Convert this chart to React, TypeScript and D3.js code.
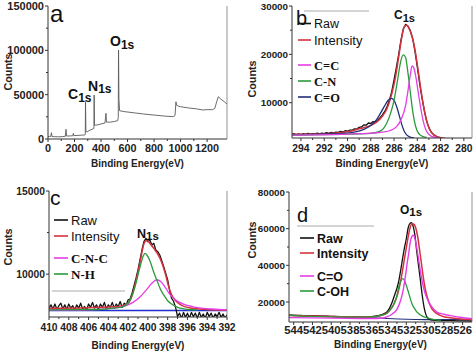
import React from "react";
import * as d3 from "d3";

type Pt = [number, number];

// ---------------- Panel a : survey ----------------
const surveyTicksX = [0, 200, 400, 600, 800, 1000, 1200];
const surveyTicksY = [0, 50000, 100000, 150000];
const surveySpectrum: Pt[] = [
  [0, 2600], [10, 2900], [20, 2700], [26, 7100], [30, 2800], [50, 2600], [80, 2500], [110, 2700],
  [130, 3000], [136, 10900], [140, 3300], [170, 3500], [188, 3700], [191, 6400], [195, 3800],
  [220, 4000], [250, 4300], [275, 4500], [281, 5000], [283, 42100], [286, 8500], [295, 8000],
  [310, 9500], [325, 10500], [340, 11500], [346, 12000], [348, 49600], [351, 15500], [370, 15800],
  [400, 17000], [430, 18000], [437, 29000], [441, 19000], [470, 19000], [500, 19800], [525, 20600],
  [530, 24000], [532, 100400], [535, 45000], [540, 31900], [580, 30800], [650, 29500], [720, 28200],
  [800, 27000], [880, 25800], [945, 25200], [958, 26500], [965, 42000], [970, 38000], [985, 37000],
  [1000, 36400], [1060, 35000], [1120, 34000], [1170, 32700], [1200, 33200], [1240, 33000],
  [1258, 34500], [1272, 42000], [1285, 47700], [1300, 45500], [1330, 42000], [1350, 39500],
];

// ---------------- Panel b : C1s ----------------
const c1sTicksX = [294, 292, 290, 288, 286, 284, 282, 280];
const c1sTicksY = [10000, 20000, 30000];
const c1sRawStart = 294.8;
const c1sRawStep = -0.2;
const c1sRawCounts = [
  3500, 3620, 3380, 3550, 3420, 3600, 3450, 3650, 3480, 3600, 3520, 3700, 3550, 3720, 3600, 3800,
  3680, 3850, 3750, 3900, 3850, 4050, 3950, 4200, 4100, 4350, 4300, 4600, 4550, 4900, 5000, 5400,
  5350, 5800, 5700, 6100, 6000, 6400, 6900, 7500, 8200, 9200, 10500, 12300, 14700, 17300, 20000,
  23000, 25300, 26200, 25800, 24900, 23300, 20600, 17400, 14000, 11000, 8400, 6200, 4800, 3900,
  3400, 3100, 2900, 2800,
];
const c1sEnvelope: Pt[] = [
  [294.8, 3450], [293, 3500], [291, 3750], [290, 4000], [289, 4600], [288, 5300], [287.5, 6000],
  [287, 7200], [286.6, 8800], [286.2, 11800], [285.9, 15000], [285.6, 19500], [285.3, 24000],
  [285.1, 25800], [284.9, 26000], [284.7, 25300], [284.5, 24000], [284.3, 22200], [284.1, 19500],
  [283.9, 16200], [283.7, 12800], [283.5, 9800], [283.3, 7300], [283.1, 5500], [282.9, 4300],
  [282.6, 3400], [282.3, 2950], [282.0, 2750], [281.6, 2650],
];
const c1sCC: Pt[] = [
  [294.8, 3300], [290, 3500], [288, 3700], [287, 3900], [286.4, 4200], [285.8, 5000], [285.4, 6500],
  [285.0, 9500], [284.8, 12500], [284.6, 15800], [284.45, 17600], [284.3, 17200], [284.1, 15000],
  [283.9, 11800], [283.7, 8800], [283.5, 6300], [283.3, 4600], [283.1, 3700], [282.8, 3100],
  [282.5, 2850], [282.2, 2750],
];
const c1sCN: Pt[] = [
  [294.8, 3300], [290, 3500], [288, 3650], [287.3, 4000], [286.9, 4700], [286.6, 5900], [286.3, 7800],
  [286.0, 10500], [285.7, 14600], [285.45, 18300], [285.2, 19900], [285.0, 19300], [284.85, 17000],
  [284.65, 13200], [284.45, 9200], [284.25, 6200], [284.05, 4400], [283.8, 3400], [283.5, 3000],
  [283.2, 2850],
];
const c1sCO: Pt[] = [
  [294.8, 3350], [293, 3450], [291, 3600], [290, 3700], [289.2, 4000], [288.6, 4500], [288.0, 5300],
  [287.5, 6500], [287.1, 8100], [286.8, 9400], [286.5, 10500], [286.25, 10900], [286.0, 10500],
  [285.75, 9000], [285.5, 6900], [285.3, 5200], [285.1, 4000], [284.9, 3300], [284.6, 2900],
  [284.3, 2750],
];
const c1sLegend = ["Raw", "Intensity", "C=C", "C-N", "C=O"];

// ---------------- Panel c : N1s ----------------
const n1sTicksX = [410, 408, 406, 404, 402, 400, 398, 396, 394, 392];
const n1sTicksY = [10000, 15000];
const n1sRawStart = 410;
const n1sRawStep = -0.2;
const n1sRawCounts = [
  7950, 8150, 7900, 8200, 7880, 8100, 8250, 7900, 8150, 7880, 8200, 7950, 8100, 7850, 8150, 7950,
  8250, 7900, 8050, 7850, 8200, 8000, 8300, 7950, 8150, 7880, 8200, 8000, 8300, 7900, 8150, 8000,
  8300, 7950, 8200, 8050, 8350, 8000, 8250, 8150, 8450, 8500, 8850, 9300, 9750, 10250, 10850,
  11450, 11950, 12150, 11950, 12050, 11750, 11850, 11450, 11350, 11150, 10800, 10450, 10050, 9650,
  9000, 8550, 8350, 8000, 7450, 7650, 7350, 7700, 7400, 7650, 7350, 7700, 7450, 7650, 7350, 7700,
  7400, 7600, 7350, 7700, 7450, 7650, 7350, 7600, 7450, 7700, 7400, 7600, 7350, 7550,
];
const n1sEnvelope: Pt[] = [
  [410, 7950], [406, 7980], [403, 8050], [402, 8250], [401.6, 8700], [401.2, 9600], [400.8, 10700],
  [400.5, 11600], [400.3, 11950], [400.1, 12000], [399.8, 11850], [399.4, 11550], [399.0, 11200],
  [398.6, 10700], [398.2, 9950], [397.9, 9250], [397.6, 8750], [397.2, 8400], [396.8, 8200],
  [396.2, 8030], [395.5, 7950], [394.5, 7880], [393, 7840], [392, 7820],
];
const n1sCNC: Pt[] = [
  [410, 7830], [407, 7840], [405, 7880], [403.5, 7950], [402.5, 8050], [401.5, 8300], [400.8, 8620],
  [400.2, 9020], [399.6, 9450], [399.1, 9660], [398.7, 9550], [398.3, 9250], [397.8, 8800],
  [397.4, 8550], [396.9, 8330], [396.4, 8200], [395.5, 8050], [394.8, 7970], [393.5, 7900], [392, 7850],
];
const n1sNH: Pt[] = [
  [410, 7850], [404.9, 7870], [403.5, 7950], [402.5, 8050], [401.8, 8450], [401.3, 9250],
  [400.8, 10420], [400.5, 11050], [400.3, 11250], [400.1, 11150], [399.8, 10800], [399.4, 10100],
  [399.1, 9650], [398.7, 9050], [398.4, 8750], [398.0, 8400], [397.6, 8200], [397.1, 8030],
  [396.5, 7920], [396, 7870], [395, 7850],
];
const n1sBaseline: Pt[] = [[410, 7810], [392, 7810]];
const n1sLegend = ["Raw", "Intensity", "C-N-C", "N-H"];

// ---------------- Panel d : O1s ----------------
const o1sTicksX = [544, 542, 540, 538, 536, 534, 532, 530, 528, 526];
const o1sTicksY = [20000, 40000, 60000, 80000];
const o1sRaw: Pt[] = [
  [544.5, 12800], [543.5, 12700], [543, 12600], [542, 12450], [541, 12300], [540, 12150], [539, 12000],
  [538, 11950], [537, 11900], [536, 11900], [535.3, 12300], [534.8, 12800], [534.4, 13600],
  [534.1, 14400], [533.8, 16500], [533.5, 20000], [533.2, 24500], [533.0, 27500], [532.8, 31500],
  [532.6, 37300], [532.4, 43500], [532.2, 49500], [532.0, 54500], [531.8, 60500], [531.6, 63000],
  [531.45, 63300], [531.3, 61800], [531.1, 57000], [530.9, 48200], [530.7, 40000], [530.5, 31900],
  [530.3, 23500], [530.1, 17000], [529.9, 13000], [529.6, 10800], [529.2, 10100], [528.5, 9900],
  [527, 9800], [526, 9700], [525, 9650],
];
const o1sEnvelope: Pt[] = [
  [544.5, 12700], [541, 12300], [538, 11900], [536, 11800], [535, 12200], [534.4, 13100], [534, 14200],
  [533.6, 16500], [533.3, 19200], [533.0, 23000], [532.8, 26800], [532.6, 31500], [532.4, 37300],
  [532.2, 43500], [532.0, 49500], [531.8, 55500], [531.6, 60500], [531.4, 62700], [531.2, 62400],
  [531.0, 60500], [530.8, 56000], [530.6, 49000], [530.4, 41500], [530.2, 33800], [530.0, 27500],
  [529.7, 21500], [529.4, 17500], [529.0, 14700], [528.5, 13000], [528, 12000], [527.3, 11400],
  [526.5, 10900], [525.7, 10600], [525, 10400],
];
const o1sCO: Pt[] = [
  [544.5, 11500], [540, 11200], [537, 11000], [535.8, 10970], [534.5, 11300], [534.0, 12000],
  [533.5, 13500], [533.0, 16000], [532.7, 19500], [532.5, 22800], [532.3, 27500], [532.1, 33800],
  [531.9, 41500], [531.75, 46400], [531.6, 52000], [531.4, 55800], [531.25, 56400], [531.1, 55000],
  [530.9, 50000], [530.7, 43500], [530.4, 33800], [530.1, 26500], [529.8, 22000], [529.4, 18200],
  [528.7, 14400], [528, 13300], [527.3, 12600], [526.3, 11700], [525, 10900],
];
const o1sCOH: Pt[] = [
  [544.5, 12900], [542.9, 12300], [540, 11900], [537, 11800], [535.8, 11880], [534.8, 12600],
  [534.1, 13700], [533.7, 15800], [533.3, 19100], [533.0, 23500], [532.8, 28200], [532.6, 31300],
  [532.4, 32800], [532.2, 31800], [532.0, 29000], [531.8, 25800], [531.4, 19100], [531.0, 15500],
  [530.7, 13700], [530.2, 12000], [529.5, 10970], [528.8, 10300], [528.3, 10080],
];
const o1sBaseline: Pt[] = [
  [544.5, 12700], [540, 12000], [536, 11500], [534, 11000], [532, 10600], [530, 10400], [528, 10350],
  [525, 10350],
];
const o1sLegend = ["Raw", "Intensity", "C=O", "C-OH"];

// ---------------- styling ----------------
const SANS = "'Liberation Sans', Arial, Helvetica, sans-serif";
const SERIF = "'Liberation Serif', 'Times New Roman', serif";
const BLACK = "#111111";
const RED = "#d6323e";
const MAGENTA = "#e63ce6";
const GREEN = "#2b9a3c";
const NAVY = "#22307a";
const BLUE = "#1f2fd0";

const fromGrid = (start: number, step: number, vals: number[]): Pt[] =>
  vals.map((v, i) => [start + step * i, v] as Pt);

interface LineSpec {
  data: Pt[];
  color: string;
  width: number;
  smooth: boolean;
}

interface PanelProps {
  id: string;
  left: number;
  right: number;
  top: number;
  bottom: number;
  xDomain: [number, number];
  yDomain: [number, number];
  xTicks: number[];
  yTicks: number[];
  xTickFont: number;
  yTickFont: number;
  xTickBaseline: number;
  titleBaseline: number;
  countsX: number;
  countsY: number;
  lines: LineSpec[];
  children?: (x: d3.ScaleLinear<number, number>, y: d3.ScaleLinear<number, number>) => React.ReactNode;
}

function Panel(p: PanelProps) {
  const x = d3.scaleLinear().domain(p.xDomain).range([p.left, p.right]);
  const y = d3.scaleLinear().domain(p.yDomain).range([p.bottom, p.top]);
  const minorX: number[] = [];
  for (let i = 0; i < p.xTicks.length - 1; i++) minorX.push((p.xTicks[i] + p.xTicks[i + 1]) / 2);
  const minorY: number[] = [];
  for (let i = 0; i < p.yTicks.length - 1; i++) minorY.push((p.yTicks[i] + p.yTicks[i + 1]) / 2);
  const axisColor = "#333";
  return (
    <g>
      <defs>
        <clipPath id={`clip-${p.id}`}>
          <rect x={p.left} y={p.top - 2} width={p.right - p.left} height={p.bottom - p.top + 2} />
        </clipPath>
      </defs>
      <g clipPath={`url(#clip-${p.id})`}>
        {p.lines.map((l, i) => {
          const gen = d3
            .line<Pt>()
            .x((d) => x(d[0]))
            .y((d) => y(d[1]))
            .curve(l.smooth ? d3.curveMonotoneX : d3.curveLinear);
          return (
            <path key={i} d={gen(l.data) || ""} fill="none" stroke={l.color} strokeWidth={l.width}
              strokeLinejoin="round" />
          );
        })}
      </g>
      <line x1={p.left} x2={p.left} y1={p.top} y2={p.bottom} stroke={axisColor} strokeWidth={1} />
      <line x1={p.left} x2={p.right} y1={p.bottom} y2={p.bottom} stroke={axisColor} strokeWidth={1} />
      <line x1={p.right} x2={p.right} y1={p.top} y2={p.bottom} stroke="#777" strokeWidth={0.8} />
      {p.xTicks.map((t) => (
        <g key={`xt${t}`}>
          <line x1={x(t)} x2={x(t)} y1={p.bottom} y2={p.bottom + 3} stroke={axisColor} />
          <text x={x(t)} y={p.xTickBaseline} textAnchor="middle" fontFamily={SANS} fontWeight="bold"
            fontSize={p.xTickFont} fill="#222">{t}</text>
        </g>
      ))}
      {minorX.map((t) => (
        <line key={`xm${t}`} x1={x(t)} x2={x(t)} y1={p.bottom} y2={p.bottom + 2} stroke={axisColor} />
      ))}
      {p.yTicks.map((t) => (
        <g key={`yt${t}`}>
          <line x1={p.left - 3} x2={p.left} y1={y(t)} y2={y(t)} stroke={axisColor} />
          <text x={p.left - 4} y={y(t) + p.yTickFont * 0.36} textAnchor="end" fontFamily={SANS}
            fontWeight="bold" fontSize={p.yTickFont} fill="#222">{t}</text>
        </g>
      ))}
      {minorY.map((t) => (
        <line key={`ym${t}`} x1={p.left - 2} x2={p.left} y1={y(t)} y2={y(t)} stroke={axisColor} />
      ))}
      <text x={(p.left + p.right) / 2} y={p.titleBaseline} textAnchor="middle" fontFamily={SANS}
        fontWeight="bold" fontSize={10} fill="#222">Binding Energy(eV)</text>
      <text transform={`translate(${p.countsX},${p.countsY}) rotate(-90)`} textAnchor="middle"
        fontFamily={SANS} fontWeight="bold" fontSize={10.8} fill="#222">Counts</text>
      {p.children ? p.children(x, y) : null}
    </g>
  );
}

function LegendRow(props: { x: number; y: number; color: string; label: string; font: string;
  bold: boolean; size: number; lineW: number }) {
  return (
    <g>
      <line x1={props.x} x2={props.x + props.lineW} y1={props.y} y2={props.y} stroke={props.color}
        strokeWidth={1.6} />
      <text x={props.x + props.lineW + 3} y={props.y + props.size * 0.36} fontFamily={props.font}
        fontWeight={props.bold ? "bold" : "normal"} fontSize={props.size} fill="#111">{props.label}</text>
    </g>
  );
}

function PeakLabel(props: { x: number; y: number; main: string; sub: string; size: number;
  subSize: number; dy: number }) {
  return (
    <text x={props.x} y={props.y} fontFamily={SANS} fontWeight="bold" fontSize={props.size} fill="#111">
      {props.main}
      <tspan fontSize={props.subSize} dy={props.dy}>{props.sub}</tspan>
    </text>
  );
}

export default function App() {
  const c1sRaw = fromGrid(c1sRawStart, c1sRawStep, c1sRawCounts);
  const n1sRaw = fromGrid(n1sRawStart, n1sRawStep, n1sRawCounts);
  return (
    <svg width={474} height={355} viewBox="0 0 474 355"
      style={{ position: "absolute", left: 0, top: 0, background: "#fff" }}>
      <rect width={474} height={355} fill="#fff" />
      <Panel id="a" left={48} right={227} top={6} bottom={139} xDomain={[0, 1350]} yDomain={[0, 150000]}
        xTicks={surveyTicksX} yTicks={surveyTicksY} xTickFont={10.8} yTickFont={11}
        xTickBaseline={152} titleBaseline={166.5} countsX={12} countsY={72}
        lines={[{ data: surveySpectrum, color: "#5a5a5a", width: 0.9, smooth: false }]}>
        {() => (
          <g>
            <text x={50} y={22} fontFamily={SANS} fontSize={24} fill="#111">a</text>
            <PeakLabel x={68} y={99} main="C" sub="1s" size={14} subSize={12} dy={3} />
            <PeakLabel x={88} y={91} main="N" sub="1s" size={14} subSize={12} dy={2} />
            <PeakLabel x={110} y={46} main="O" sub="1s" size={14} subSize={12} dy={3} />
          </g>
        )}
      </Panel>

      <Panel id="b" left={292} right={472} top={6} bottom={138} xDomain={[294.77, 279.3]}
        yDomain={[2700, 30000]} xTicks={c1sTicksX} yTicks={c1sTicksY} xTickFont={10.3} yTickFont={9.8}
        xTickBaseline={151.5} titleBaseline={166.5} countsX={256} countsY={79}
        lines={[
          { data: c1sRaw, color: BLACK, width: 1.3, smooth: false },
          { data: c1sEnvelope, color: RED, width: 1.5, smooth: true },
          { data: c1sCO, color: NAVY, width: 1.3, smooth: true },
          { data: c1sCN, color: GREEN, width: 1.3, smooth: true },
          { data: c1sCC, color: MAGENTA, width: 1.3, smooth: true },
        ]}>
        {() => (
          <g>
            <line x1={304} x2={369} y1={11} y2={11} stroke="#aaa" strokeWidth={1} />
            <text x={296} y={25} fontFamily={SANS} fontSize={20} fill="#111">b</text>
            <LegendRow x={298} y={23.5} color={BLACK} label={c1sLegend[0]} font={SANS} bold={false} size={12.5} lineW={13} />
            <LegendRow x={298} y={40} color={RED} label={c1sLegend[1]} font={SANS} bold={false} size={13} lineW={13} />
            <LegendRow x={298} y={65} color={MAGENTA} label={c1sLegend[2]} font={SERIF} bold={true} size={12.5} lineW={13} />
            <LegendRow x={298} y={81} color={GREEN} label={c1sLegend[3]} font={SERIF} bold={true} size={12.5} lineW={13} />
            <LegendRow x={298} y={97} color={NAVY} label={c1sLegend[4]} font={SERIF} bold={true} size={12.5} lineW={13} />
            <PeakLabel x={394} y={19} main="C" sub="1s" size={12} subSize={11} dy={2.5} />
          </g>
        )}
      </Panel>

      <Panel id="c" left={49} right={227} top={191} bottom={317} xDomain={[410, 392]}
        yDomain={[7420, 15000]} xTicks={n1sTicksX} yTicks={n1sTicksY} xTickFont={10.3} yTickFont={10.3}
        xTickBaseline={331} titleBaseline={349} countsX={12} countsY={247}
        lines={[
          { data: n1sBaseline, color: BLUE, width: 1.4, smooth: false },
          { data: n1sRaw, color: BLACK, width: 1.3, smooth: false },
          { data: n1sEnvelope, color: RED, width: 1.5, smooth: true },
          { data: n1sCNC, color: MAGENTA, width: 1.3, smooth: true },
          { data: n1sNH, color: GREEN, width: 1.3, smooth: true },
        ]}>
        {() => (
          <g>
            <text x={50} y={205} fontFamily={SANS} fontSize={21} fill="#111">c</text>
            <LegendRow x={54} y={220} color={BLACK} label={n1sLegend[0]} font={SANS} bold={false} size={13} lineW={14} />
            <LegendRow x={54} y={236} color={RED} label={n1sLegend[1]} font={SANS} bold={false} size={13} lineW={14} />
            <LegendRow x={54} y={258} color={MAGENTA} label={n1sLegend[2]} font={SERIF} bold={true} size={13} lineW={14} />
            <LegendRow x={54} y={274} color={GREEN} label={n1sLegend[3]} font={SERIF} bold={true} size={13} lineW={14} />
            <line x1={52} x2={125} y1={291} y2={291} stroke="#aaa" strokeWidth={1} />
            <PeakLabel x={137} y={238} main="N" sub="1s" size={12.5} subSize={11.5} dy={1.5} />
          </g>
        )}
      </Panel>

      <Panel id="d" left={289} right={472} top={192} bottom={322} xDomain={[544.5, 525]}
        yDomain={[9100, 80000]} xTicks={o1sTicksX} yTicks={o1sTicksY} xTickFont={11.3} yTickFont={9.8}
        xTickBaseline={333.5} titleBaseline={347.5} countsX={256} countsY={240}
        lines={[
          { data: o1sBaseline, color: NAVY, width: 1.2, smooth: true },
          { data: o1sRaw, color: BLACK, width: 1.3, smooth: true },
          { data: o1sEnvelope, color: RED, width: 1.5, smooth: true },
          { data: o1sCOH, color: GREEN, width: 1.3, smooth: true },
          { data: o1sCO, color: MAGENTA, width: 1.4, smooth: true },
        ]}>
        {() => (
          <g>
            <text x={297} y={222} fontFamily={SANS} fontSize={20} fill="#111">d</text>
            <line x1={297} x2={374} y1={226} y2={226} stroke="#aaa" strokeWidth={1} />
            <LegendRow x={300} y={238} color={BLACK} label={o1sLegend[0]} font={SANS} bold={true} size={12.5} lineW={14} />
            <LegendRow x={300} y={253} color={RED} label={o1sLegend[1]} font={SANS} bold={true} size={12.5} lineW={14} />
            <LegendRow x={300} y={276} color={MAGENTA} label={o1sLegend[2]} font={SANS} bold={true} size={12.5} lineW={14} />
            <LegendRow x={300} y={291} color={GREEN} label={o1sLegend[3]} font={SANS} bold={true} size={12.5} lineW={14} />
            <PeakLabel x={400} y={214} main="O" sub="1s" size={12} subSize={11.5} dy={2} />
          </g>
        )}
      </Panel>
    </svg>
  );
}
